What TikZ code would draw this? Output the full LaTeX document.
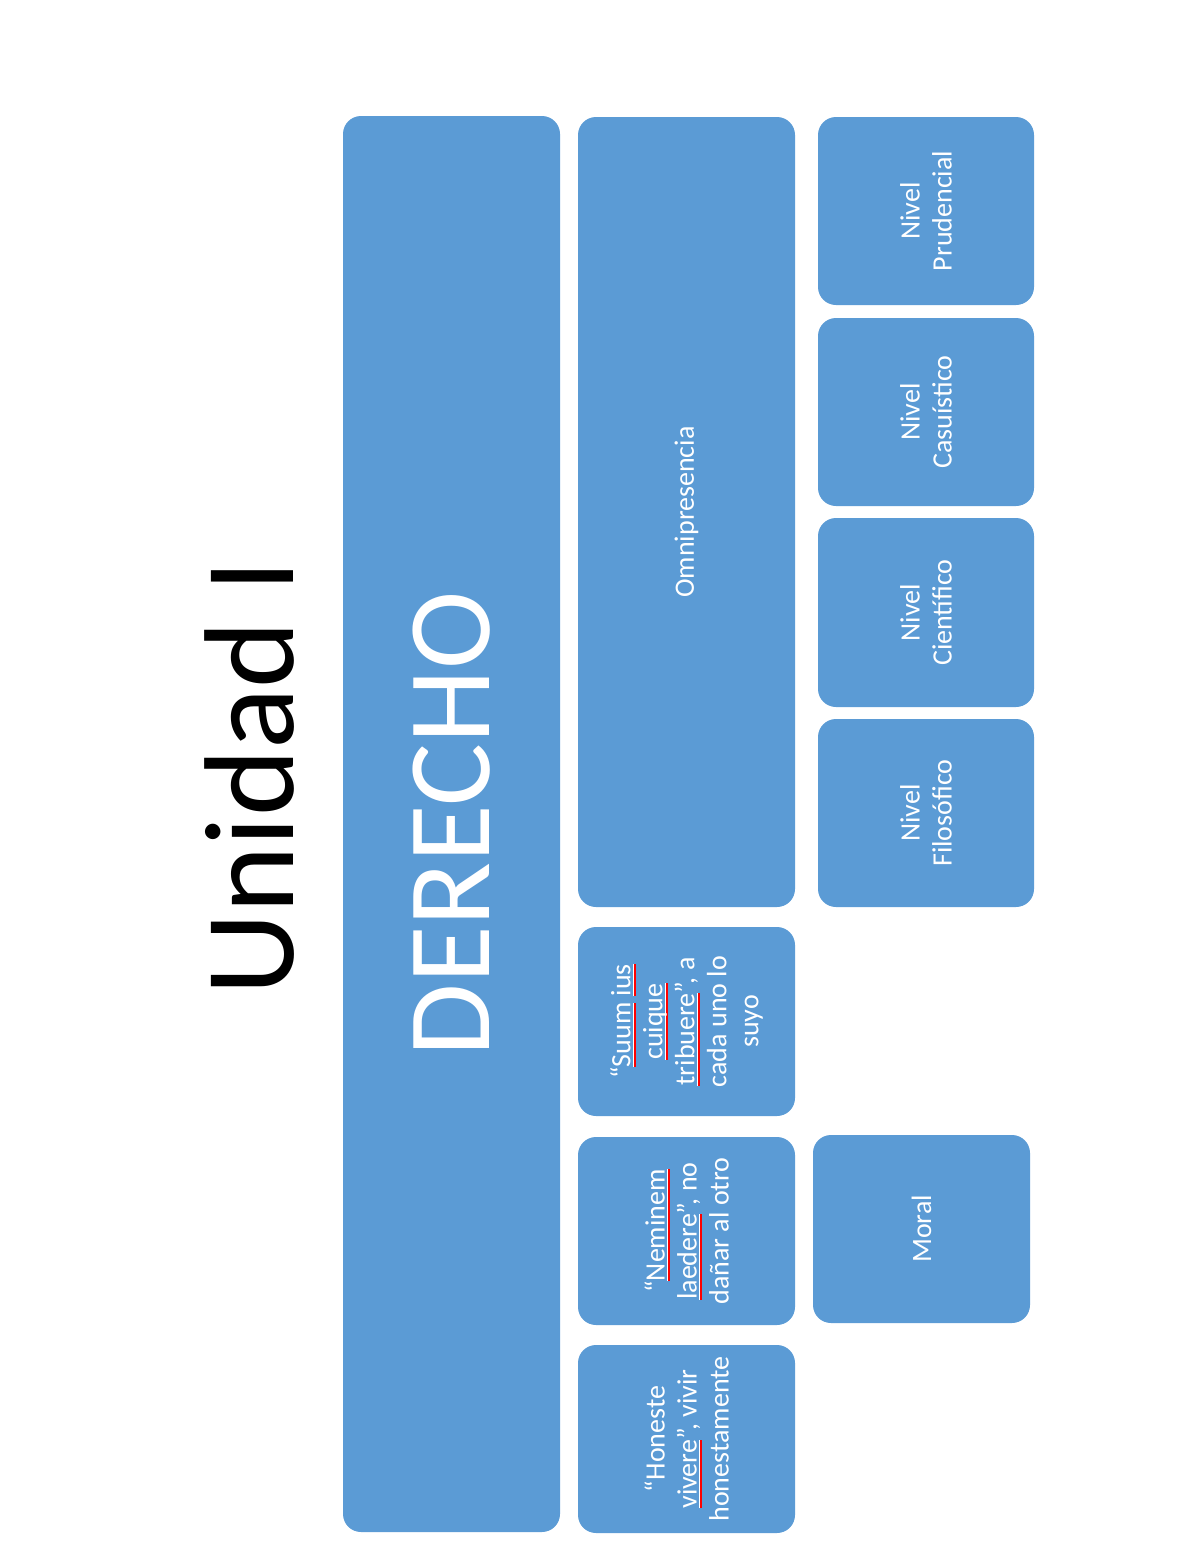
\documentclass[tikz,border=0pt]{standalone}
\usepackage{fontspec}
\setmainfont{Carlito}
\usepackage{xcolor}
\definecolor{boxblue}{HTML}{5B9BD5}
\newcommand\spl[1]{\setbox0\hbox{#1}\leavevmode\rlap{\textcolor{white}{\rule[-1.6pt]{\wd0}{0.5pt}}}\rlap{\textcolor{red}{\rule[-2.6pt]{\wd0}{1pt}}}\box0\relax}
\begin{document}
\begin{tikzpicture}[x=0.5pt,y=-0.5pt,
  blk/.style={rotate=90,fill=boxblue,draw=none,rounded corners=9pt,text=white,align=center,inner sep=0pt,font=\fontsize{14}{16}\selectfont},
  wide/.style={minimum height=108.5pt}]
\useasboundingbox (0,0) rectangle (1200,1553);
\node[rotate=90,font=\fontsize{64}{70}\selectfont] (title) at (250,777.5) {Unidad I};
\node[blk,wide,minimum width=708pt,font=\fontsize{59}{64}\selectfont] (derecho) at (451.5,824) {DERECHO};
\node[blk,wide,minimum width=395pt] (omni) at (686.5,512) {Omnipresencia};
\node[blk,wide,minimum width=94.5pt] (suum) at (686.5,1021.5) {“\spl{Suum} \spl{ius}\\ \spl{cuique}\\ \spl{tribuere}”, a\\ cada uno lo\\ suyo};
\node[blk,wide,minimum width=94pt] (nem) at (686.5,1231) {“\spl{Neminem}\\ \spl{laedere}”, no\\ dañar al otro};
\node[blk,wide,minimum width=94pt] (hon) at (686.5,1439) {“Honeste\\ \spl{vivere}”, vivir\\ honestamente};
\node[blk,minimum height=108pt,minimum width=94pt] (prud) at (926,211) {Nivel\\ Prudencial};
\node[blk,minimum height=108pt,minimum width=94pt] (cas) at (926,412) {Nivel\\ Casuístico};
\node[blk,minimum height=108pt,minimum width=94.5pt] (cien) at (926,612.5) {Nivel\\ Científico};
\node[blk,minimum height=108pt,minimum width=94pt] (filo) at (926,813) {Nivel\\ Filosófico};
\node[blk,wide,minimum width=94pt] (moral) at (921.5,1229) {Moral};
\end{tikzpicture}
\end{document}
